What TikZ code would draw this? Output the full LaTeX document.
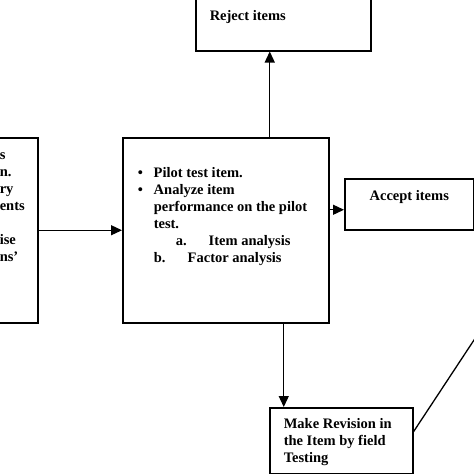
\documentclass[tikz,border=0pt]{standalone}
\usepackage{fontspec}
\setmainfont{Liberation Serif}
\usetikzlibrary{arrows.meta}
\begin{document}
\begin{tikzpicture}[x=1pt,y=1pt,
  box/.style={draw,line width=1.5pt,inner sep=0pt,anchor=north west},
  arr/.style={line width=1.3pt,-{Triangle[length=11pt,width=10pt]}},
  font=\bfseries\fontsize{14.5}{17}\selectfont]
\useasboundingbox (0,0) rectangle (474,-474);
\node[box] (L) at (-30,-137) {\begin{minipage}[c][185pt][t]{67pt}\baselineskip=17pt\leftskip=29pt\vspace*{10pt}
\strut s\\ n.\\ ry\\ ents\\[17pt] ise\\ ns'\end{minipage}};
\node[box] (pilot) at (122,-137) {\begin{minipage}[c][185pt][t]{206pt}\baselineskip=17pt\leftskip=15pt\vspace*{28pt}
\strut\makebox[16pt][l]{\textbullet}Pilot test item.\\
\makebox[16pt][l]{\textbullet}Analyze item\\
\hspace*{16pt}performance on the pilot\\
\hspace*{16pt}test.\\
\hspace*{38pt}\makebox[33pt][l]{a.}Item analysis\\
\hspace*{16pt}\makebox[34pt][l]{b.}Factor analysis\end{minipage}};
\node[box] (reject) at (195,10) {\begin{minipage}[c][60pt][t]{175pt}\leftskip=14pt\vspace*{18pt}
\strut Reject items\end{minipage}};
\node[box] (accept) at (344,-178) {\begin{minipage}[c][51pt][t]{129pt}\centering\vspace*{10pt}
\strut Accept items\end{minipage}};
\node[box] (rev) at (269,-407) {\begin{minipage}[c][66pt][t]{143pt}\baselineskip=17pt\leftskip=14pt\vspace*{9pt}
\strut Make Revision in\\ the Item by field\\ Testing\end{minipage}};
\coordinate (up) at ([xshift=44pt]pilot.north);
\coordinate (acc) at ([yshift=-5.5pt]accept.west);
\coordinate (down) at ([xshift=58pt]pilot.south);
\coordinate (diag) at ([yshift=9pt]rev.east);
\coordinate (next) at (476,-337);
\path[arr]
  (L.east) edge (L.east -| pilot.west)
  (up) edge (up |- reject.south)
  (acc -| pilot.east) edge (acc)
  (down) edge (down |- rev.north)
  (diag) edge[-] (next)
;
\end{tikzpicture}
\end{document}
